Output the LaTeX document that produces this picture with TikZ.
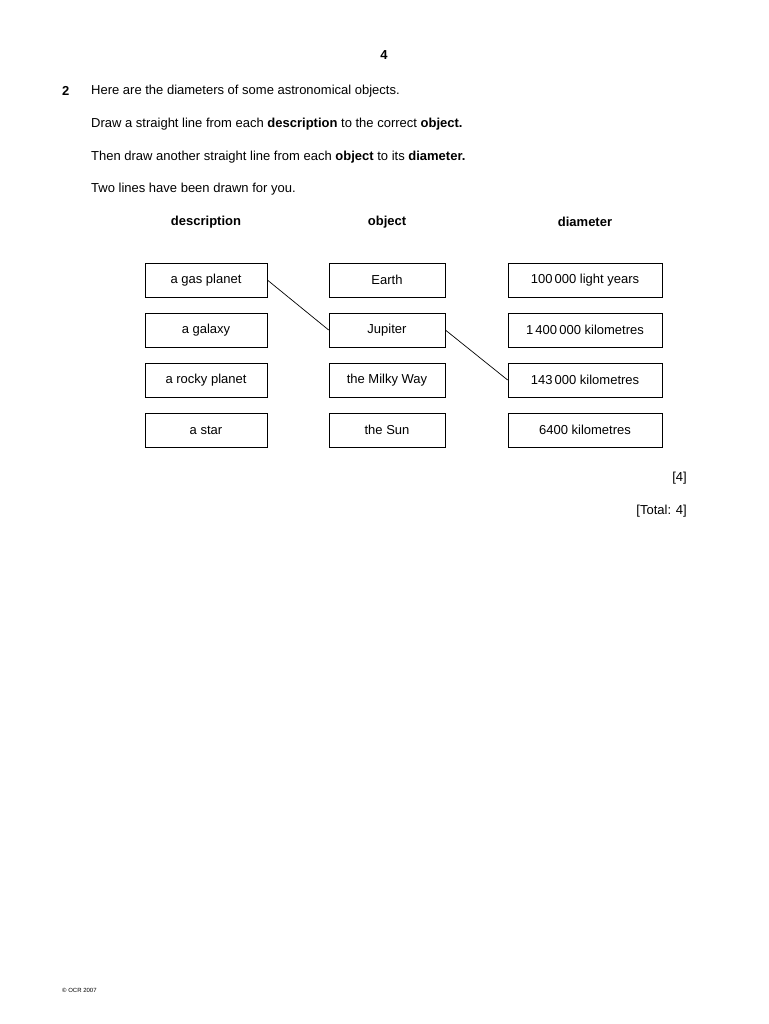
\documentclass[tikz,border=0pt]{standalone}
\usepackage{fontspec}
\setmainfont{Liberation Sans}
\begin{document}
\begin{tikzpicture}[x=1pt,y=-1pt,
  every node/.style={font=\fontsize{13}{15}\selectfont, inner sep=0pt},
  box/.style={draw, line width=0.7pt, minimum height=34pt, anchor=center},
  dbox/.style={box, minimum width=122pt},
  obox/.style={box, minimum width=116pt},
  mbox/.style={box, minimum width=154pt},
  hdr/.style={font=\fontsize{13}{15}\selectfont\bfseries}]
\useasboundingbox (0,0) rectangle (768,1024);
\node[hdr] (pg) at (384,55) {4};
\node[hdr,anchor=west] (qn) at (62,91) {2};
\node[anchor=west] (t1) at (91,91) {Here are the diameters of some astronomical objects.};
\node[anchor=west] (t2) at (91,124) {Draw a straight line from each \textbf{description} to the correct \textbf{object.}};
\node[anchor=west] (t3) at (91,157) {Then draw another straight line from each \textbf{object} to its \textbf{diameter.}};
\node[anchor=west] (t4) at (91,189) {Two lines have been drawn for you.};
\node[hdr] (h1) at (206,222) {description};
\node[hdr] (h2) at (387,222) {object};
\node[hdr] (h3) at (585,222) {diameter};
\node[dbox] (d1) at (206,280) {a gas planet};
\node[dbox] (d2) at (206,330) {a galaxy};
\node[dbox] (d3) at (206,380) {a rocky planet};
\node[dbox] (d4) at (206,430) {a star};
\node[obox] (o1) at (387,280) {Earth};
\node[obox] (o2) at (387,330) {Jupiter};
\node[obox] (o3) at (387,380) {the Milky Way};
\node[obox] (o4) at (387,430) {the Sun};
\node[mbox] (m1) at (585,280) {100\,000 light years};
\node[mbox] (m2) at (585,330) {1\,400\,000 kilometres};
\node[mbox] (m3) at (585,380) {143\,000 kilometres};
\node[mbox] (m4) at (585,430) {6400 kilometres};
\draw[line width=0.7pt] (d1.east) -- (o2.west);
\draw[line width=0.7pt] (o2.east) -- (m3.west);
\node[anchor=east] (mk) at (687,478) {[4]};
\node[anchor=east] (tot) at (687,511) {[Total: 4]};
\node[anchor=west,font=\fontsize{6}{7}\selectfont] (cp) at (62,990) {© OCR 2007};
\end{tikzpicture}
\end{document}
